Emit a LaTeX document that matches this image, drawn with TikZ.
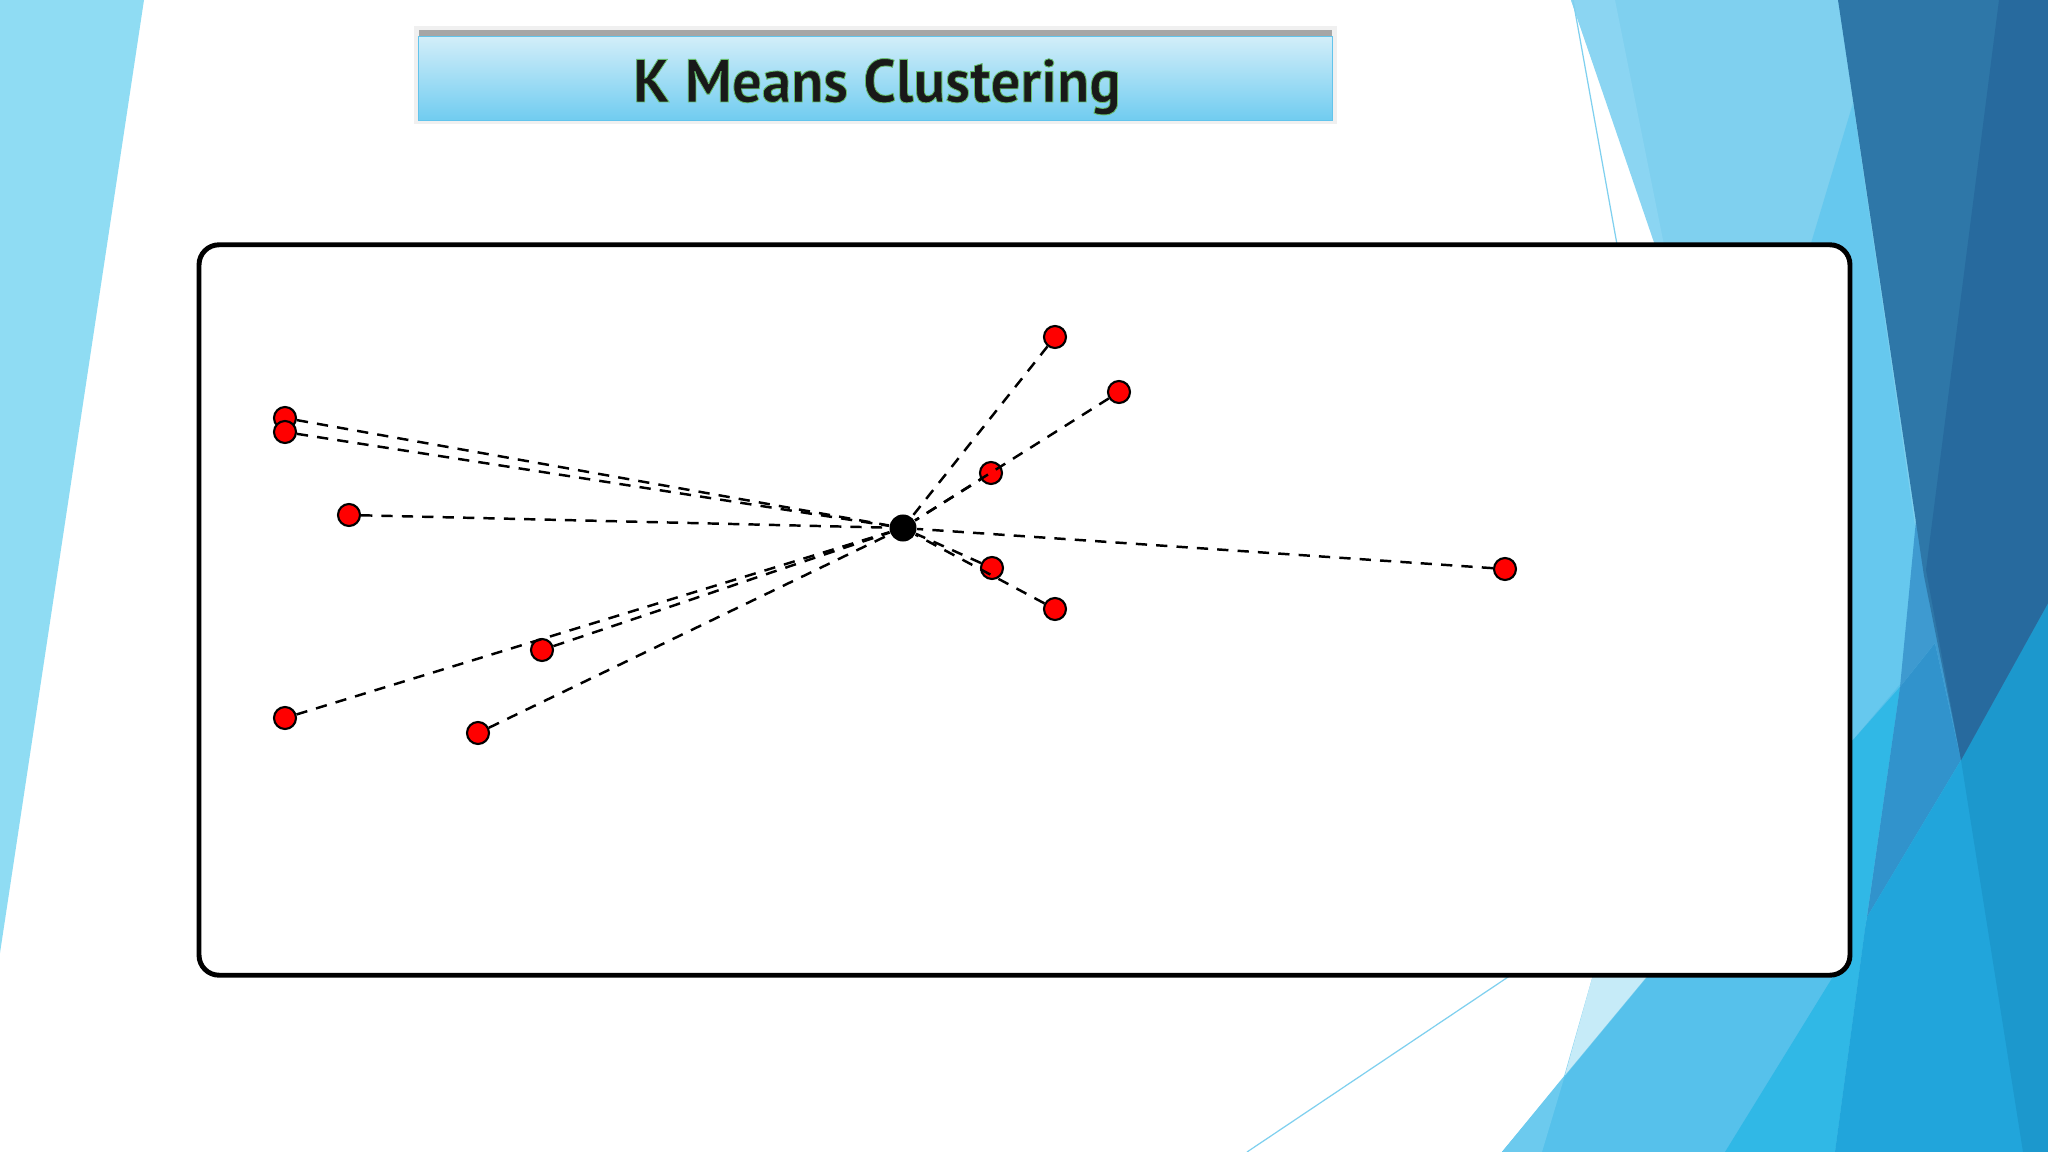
\documentclass[tikz,border=0pt]{standalone}
\usepackage{fontspec}
\usepackage{graphicx}
\usetikzlibrary{positioning, calc}
\newfontfamily\titlefont[FakeBold=1.4]{PT Sans Bold}
\definecolor{skyLeft}{HTML}{8FDCF3}
\definecolor{skyLight}{HTML}{7FD0EF}
\definecolor{skyLighter}{HTML}{8BD5F2}
\definecolor{skyMid}{HTML}{66C8EE}
\definecolor{skyBottom}{HTML}{56C1EB}
\definecolor{skyPale}{HTML}{C6EBF8}
\definecolor{skyStrip}{HTML}{6CCAEE}
\definecolor{skyBright}{HTML}{30B8E6}
\definecolor{skyWedge}{HTML}{3E9AD0}
\definecolor{skySteel}{HTML}{3193CC}
\definecolor{skyDark}{HTML}{2E77A8}
\definecolor{skyDarker}{HTML}{276A9E}
\definecolor{skyOcean}{HTML}{21A5DB}
\definecolor{skyDeep}{HTML}{1C98CD}
\definecolor{barTop}{HTML}{D2EEF9}
\definecolor{barBottom}{HTML}{70CCF0}
\definecolor{barEdge}{HTML}{62C4EC}
% black letters with a green rim
\newcommand{\glowtext}[1]{\special{pdf:bcolor [0.1 0.1 0.1] [0.40 0.74 0.42]}#1\special{pdf:ecolor}}
\tikzset{
    dot/.style={circle, draw=black, line width=0.6pt, fill=red, minimum size=0.22cm, inner sep=0pt},
    centroid/.style={circle, fill=black, minimum size=0.27cm, inner sep=0pt},
    link/.style={black, line width=0.7pt, dash pattern=on 3.2pt off 2.6pt}
}

\begin{document}
\begin{tikzpicture}[
  x=0.01cm, y=-0.01cm,
  titlebar/.style={rectangle, draw=barEdge, line width=0.4pt, top color=barTop, bottom color=barBottom,
                   minimum width=9.13cm, minimum height=0.84cm, inner sep=0pt},
  titletext/.style={inner sep=0pt, font=\titlefont\fontsize{17.3pt}{20pt}\selectfont},
  panel/.style={rectangle, draw=black, line width=1.4pt, fill=white, rounded corners=0.2cm,
                minimum width=16.5cm, minimum height=7.3cm}
]
\useasboundingbox (0,0) rectangle (2048,1152);
\fill[white] (0,0) rectangle (2048,1152);

% Background facets
\fill[skyLeft] (0,0) -- (144,0) -- (0,953) -- cycle;
\fill[skyLight] (1571,0) -- (2048,0) -- (2048,1152) -- (1502,1152) -- (1563,1080) -- (1593,975) -- (1700,700) -- (1662,260) -- cycle;
\fill[skyLighter] (1571,0) -- (1615,0) -- (1666,255) -- (1660,260) -- cycle;
\fill[skyMid] (1853,103) -- (1920,560) -- (1900,687) -- (1853,740) -- (1750,700) -- (1800,280) -- cycle;
\fill[skyBottom] (1502,1152) -- (1648,976) -- (1853,740) -- (1935,643) -- (2048,510) -- (2048,1152) -- cycle;
\fill[skyPale] (1593,975) -- (1648,975) -- (1565,1075) -- cycle;
\fill[skyStrip] (1565,1075) -- (1542,1152) -- (1502,1152) -- cycle;
\fill[skyBright] (1853,740) -- (1900,687) -- (1875,860) -- (1865,929) -- (1835,1152) -- (1725,1152) -- (1834,975) -- (1800,900) -- (1800,760) -- cycle;
\fill[skySteel] (1900,687) -- (1935,643) -- (1961,760) -- (1867,917) -- cycle;
\fill[skyWedge] (1916,520) -- (1961,760) -- (1935,643) -- (1900,687) -- cycle;
\fill[skyOcean] (1867,917) -- (1961,760) -- (2048,603) -- (2048,1152) -- (1835,1152) -- (1865,929) -- cycle;
\fill[skyDeep] (1961,760) -- (2048,603) -- (2048,1152) -- (2023,1152) -- cycle;
\fill[skyDark] (1838,0) -- (2048,0) -- (2048,603) -- (1961,760) -- (1924,576) -- cycle;
\fill[skyDarker] (1999,0) -- (2048,0) -- (2048,603) -- (1961,760) -- (1926,570) -- cycle;
\draw[skyLight, line width=0.35pt] (1573,0) -- (1618,250);
\draw[skyLight, line width=0.35pt] (1247,1152) -- (1520,969);

% Title
\fill[black!6] (414,26) rectangle (1337,124);
\fill[black!35] (419,30) rectangle (1332,37);
\node[titlebar] (title) at (875.5,78.5) {};
\node[titletext, anchor=base] (caption) at (877,102) {\scalebox{0.97}[1]{\glowtext{K Means Clustering}}};

% Panel
\node[panel] (board) at (1024.5,610) {};

% Nodes
\node[centroid] (c) at (903,528) {};
\node[dot] (p1) at (285,418) {};
\node[dot] (p2) at (285,432) {};
\node[dot] (p3) at (349,515) {};
\node[dot] (p4) at (542,650) {};
\node[dot] (p5) at (285,718) {};
\node[dot] (p6) at (478,733) {};
\node[dot] (p7) at (1055,337) {};
\node[dot] (p8) at (1119,392) {};
\node[dot] (p9) at (991,473) {};
\node[dot] (p10) at (992,568) {};
\node[dot] (p11) at (1055,609) {};
\node[dot] (p12) at (1505,569) {};

% Distances to the centroid
\draw[link] (p1) -- (c);
\draw[link] (p2) -- (c);
\draw[link] (p3) -- (c);
\draw[link] (p4) -- (c);
\draw[link] (p5) -- (c);
\draw[link] (p6) -- (c);
\draw[link] (p7) -- (c);
\draw[link] (p8) -- (c);
\draw[link, dash phase=2.5pt] (p9) -- (c);
\draw[link] (p10) -- (c);
\draw[link] (p11) -- (c);
\draw[link] (p12) -- (c);
\end{tikzpicture}
\end{document}
